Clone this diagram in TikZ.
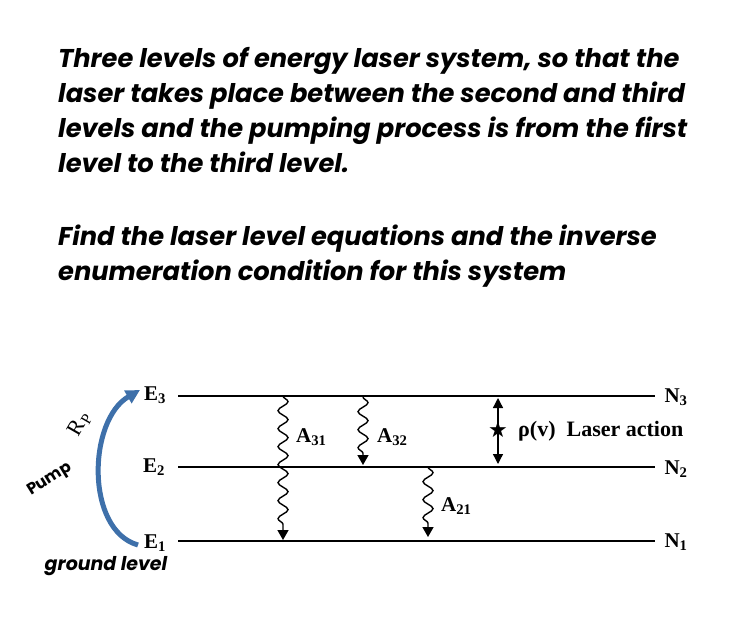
\documentclass[tikz,border=0pt]{standalone}
\usepackage{fontspec}
\setmainfont{Liberation Serif}
\newfontfamily\pop{Poppins}
\newfontfamily\dejavu{DejaVu Sans}
\usetikzlibrary{decorations.pathmorphing,arrows.meta}
\begin{document}
\begin{tikzpicture}[x=1pt,y=-1pt,
  lvl/.style={line width=1.8pt},
  wav/.style={line width=1.4pt,decorate,decoration={snake,amplitude=5pt,segment length=18pt,post length=8pt},-{Triangle[width=11pt,length=10pt]}},
  lab/.style={font=\bfseries\fontsize{21}{21}\selectfont,inner sep=0pt},
  ttl/.style={font=\pop\bfseries\itshape\fontsize{25.7}{35}\selectfont,align=left,anchor=north west,inner sep=0pt}]
\useasboundingbox (0,0) rectangle (749,616);
\node[ttl] (t1) at (58,47) {Three levels of energy laser system, so that the\\laser takes place between the second and third\\levels and the pumping process is from the first\\level to the third level.};
\node[ttl] (t2) at (58,225) {Find the laser level equations and the inverse\\enumeration condition for this system};
\coordinate (l3a) at (178,396); \coordinate (l3b) at (655,396);
\coordinate (l2a) at (178,467); \coordinate (l2b) at (655,467);
\coordinate (l1a) at (178,541); \coordinate (l1b) at (655,541);
\draw[lvl] (l3a) -- (l3b); \draw[lvl] (l2a) -- (l2b); \draw[lvl] (l1a) -- (l1b);
\node[lab] (E3) at (155,395) {E\textsubscript{3}};
\node[lab] (E2) at (154,467) {E\textsubscript{2}};
\node[lab] (E1) at (155,543) {E\textsubscript{1}};
\node[lab] (N3) at (676,397) {N\textsubscript{3}};
\node[lab] (N2) at (676,469) {N\textsubscript{2}};
\node[lab] (N1) at (676,542) {N\textsubscript{1}};
\coordinate (a31s) at (283,396); \coordinate (a31e) at (283,540);
\draw[wav] (a31s) -- (a31e);
\node[lab,anchor=west] (A31) at (296,437) {A\textsubscript{31}};
\coordinate (a32s) at (363,397); \coordinate (a32e) at (363,465);
\draw[wav] (a32s) -- (a32e);
\node[lab,anchor=west] (A32) at (377,437) {A\textsubscript{32}};
\coordinate (a21s) at (428,467); \coordinate (a21e) at (428,537);
\draw[wav] (a21s) -- (a21e);
\node[lab,anchor=west] (A21) at (441,506) {A\textsubscript{21}};
\coordinate (ds) at (498,398); \coordinate (de) at (498,464);
\draw[line width=1.3pt,{Triangle[width=10pt,length=10pt]}-{Triangle[width=10pt,length=10pt]}] (ds) -- (de);
\node[font=\dejavu\fontsize{22}{22}\selectfont,inner sep=0pt] (star) at (498,430) {★};
\node[lab,anchor=west,font=\bfseries\fontsize{22}{22}\selectfont] (la) at (518,431) {ρ(v)\enspace Laser action};
\coordinate (ps) at (138,545); \coordinate (pe) at (140,390);
\draw[line width=5pt,color={rgb,255:red,62;green,112;blue,170},-{Triangle[width=14pt,length=14pt]}] (ps) .. controls (85,530) and (88,420) .. (pe);
\node[rotate=60,font=\fontsize{22}{22}\selectfont,inner sep=0pt] (Rp) at (80,424) {R\textsubscript{P}};
\node[rotate=32,font=\pop\bfseries\fontsize{16}{16}\selectfont,inner sep=0pt] (pump) at (50,480) {Pump};
\node[font=\pop\bfseries\itshape\fontsize{19}{19}\selectfont,inner sep=0pt] (gl) at (106,566) {ground level};
\end{tikzpicture}
\end{document}
